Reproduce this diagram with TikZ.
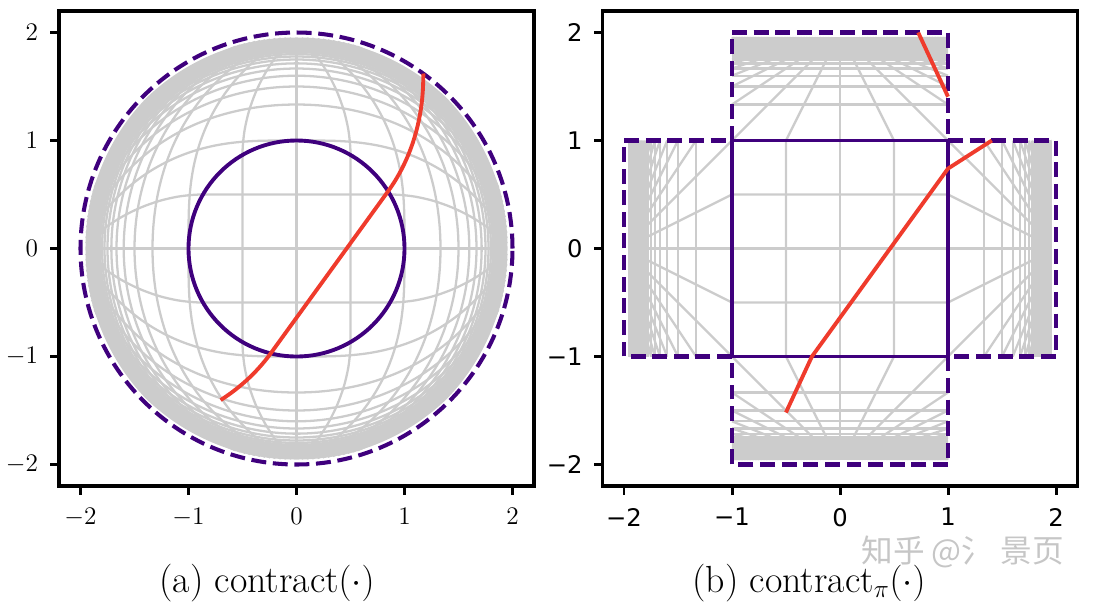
\documentclass[tikz,border=0pt]{standalone}
\usepackage{fontspec}
\newfontfamily\djv{DejaVu Sans}
\newfontfamily\cjk{Noto Sans CJK SC}
\definecolor{cpurp}{RGB}{63,0,125}
\definecolor{cred}{RGB}{239,59,44}
\definecolor{cgray}{RGB}{204,204,204}
\definecolor{cwm}{RGB}{198,198,198}
\newcommand\myfa{\fontsize{14.5}{16}\selectfont}
\newcommand\myfb{\djv\fontsize{13.8}{16}\selectfont}
\newcommand\myfc{\fontsize{21.5}{24}\selectfont}
\begin{document}
\begin{tikzpicture}[
 declare function={sf(\rr)=(2*max(\rr,1)-1)/(max(\rr,1)*max(\rr,1));},
 gridl/.style={draw=cgray, line width=1.3pt},
 purps/.style={draw=cpurp, line width=2.2pt},
 purpd/.style={draw=cpurp, line width=2.3pt, dash pattern=on 8.5pt off 3.8pt},
 redl/.style={draw=cred, line width=2.2pt},
 spine/.style={draw=black, line width=1.9pt},
 tickm/.style={draw=black, line width=1.7pt},
 lab/.style={inner sep=0pt},
]
\useasboundingbox (0,0) rectangle (21.9,-12.08);

% ---------------- panel (a) ----------------
\begin{scope}[shift={(5.93cm,-4.97cm)}, x=2.16cm, y=2.16cm]
 \fill[cgray, even odd rule]
   plot[domain=0:360, samples=181] ({(2-max(abs(cos(\x)),abs(sin(\x)))/6.0)*cos(\x)},{(2-max(abs(cos(\x)),abs(sin(\x)))/6.0)*sin(\x)}) -- cycle
   plot[domain=0:360, samples=181] ({(2.004-max(abs(cos(\x)),abs(sin(\x)))/20)*cos(\x)},{(2.004-max(abs(cos(\x)),abs(sin(\x)))/20)*sin(\x)}) -- cycle;
 \foreach \k in {1,...,12}{
  \pgfmathsetmacro\ca{\k/2}
  \pgfmathsetmacro\phm{atan(20/\ca)}
  \foreach \sg in {-1,1}{
   \draw[gridl] plot[domain=-\phm:\phm, samples=41, smooth] ({\sg*\ca*sf(\ca/cos(\x))},{\ca*tan(\x)*sf(\ca/cos(\x))});
   \draw[gridl] plot[domain=-\phm:\phm, samples=41, smooth] ({\ca*tan(\x)*sf(\ca/cos(\x))},{\sg*\ca*sf(\ca/cos(\x))});
  }
 }
 \draw[gridl] (0,-1.95) -- (0,1.95);
 \draw[gridl] (-1.95,0) -- (1.95,0);
 \draw[purps] (0,0) circle[radius=1];
 \draw[purpd] (0,0) circle[radius=2];
 \draw[redl] plot[domain=-46.12:88.5, samples=160, smooth]
   ({sf(veclen(tan(\x),1.381*tan(\x)-0.641))*tan(\x)},{sf(veclen(tan(\x),1.381*tan(\x)-0.641))*(1.381*tan(\x)-0.641)}) -- (1.173,1.620);
 \draw[spine] (-2.2,-2.2) rectangle (2.2,2.2);
 \foreach \t/\n in {-2/m2,-1/m1,0/z,1/p1,2/p2}{
  \draw[tickm] (\t,-2.2) -- (\t,-2.28);
  \draw[tickm] (-2.2,\t) -- (-2.28,\t);
  \node[lab, anchor=north] (ax\n) at (\t,-2.40) {\myfa$\t$};
  \node[lab, anchor=east] (ay\n) at (-2.39,\t) {\myfa$\t$};
 }
\end{scope}

% ---------------- panel (b) ----------------
\begin{scope}[shift={(16.8cm,-4.97cm)}, x=2.16cm, y=2.16cm]
 \foreach \c in {-1,-0.5,0,0.5,1}{
  \draw[gridl] (\c/20,-1.95) -- (\c,-1) -- (\c,1) -- (\c/20,1.95);
  \draw[gridl] (-1.95,\c/20) -- (-1,\c) -- (1,\c) -- (1.95,\c/20);
 }
 \foreach \k in {3,...,40}{
  \pgfmathsetmacro\ca{\k/2}
  \pgfmathsetmacro\cb{2-1/\ca}
  \pgfmathsetmacro\cd{\ca/20}
  \foreach \sg in {-1,1}{
   \draw[gridl] (\sg*\cb,-1) -- (\sg*\cb,1);
   \draw[gridl] (\sg,\cb) -- (\sg*\cd,1.95);
   \draw[gridl] (\sg,-\cb) -- (\sg*\cd,-1.95);
   \draw[gridl] (-1,\sg*\cb) -- (1,\sg*\cb);
   \draw[gridl] (\cb,\sg) -- (1.95,\sg*\cd);
   \draw[gridl] (-\cb,\sg) -- (-1.95,\sg*\cd);
  }
 }
 \draw[purpd, line join=miter] (-1,1) -- (-1,2) -- (1,2) -- (1,1);
 \draw[purpd, line join=miter] (1,1) -- (2,1) -- (2,-1) -- (1,-1);
 \draw[purpd, line join=miter] (1,-1) -- (1,-2) -- (-1,-2) -- (-1,-1);
 \draw[purpd, line join=miter] (-1,-1) -- (-2,-1) -- (-2,1) -- (-1,1);
 \draw[purps] (-1,-1) rectangle (1,1);
 \coordinate (b1) at (-0.5007,-1.5185);
 \coordinate (b2) at (-0.2600,-1);
 \coordinate (b3) at (1,0.740);
 \coordinate (b4) at (1.4056,1);
 \coordinate (b5) at (1,1.4056);
 \coordinate (b6) at (0.7241,2);
 \draw[redl, line join=round] (b1) -- (b2) -- (b3) -- (b4);
 \draw[redl] (b5) -- (b6);
 \draw[spine] (-2.2,-2.2) rectangle (2.2,2.2);
 \foreach \t/\l/\n in {-2/−2/m2,-1/−1/m1,0/0/z,1/1/p1,2/2/p2}{
  \draw[tickm] (\t,-2.2) -- (\t,-2.28);
  \draw[tickm] (-2.2,\t) -- (-2.28,\t);
  \node[lab, anchor=north] (bx\n) at (\t,-2.40) {\myfb \l};
  \node[lab, anchor=east] (by\n) at (-2.38,\t) {\myfb \l};
 }
\end{scope}

% captions and watermark
\node[anchor=base, inner sep=0pt] (capa) at (5.34,-11.84) {\myfc (a) contract$(\cdot)$};
\node[anchor=base, inner sep=0pt] (capb) at (16.18,-11.84) {\myfc (b) contract$_\pi(\cdot)$};
\node[inner sep=0pt, text=cwm] (wmark) at (19.25,-11.04) {\cjk\fontsize{18}{20}\selectfont 知乎 @氵 景页};
\end{tikzpicture}
\end{document}
